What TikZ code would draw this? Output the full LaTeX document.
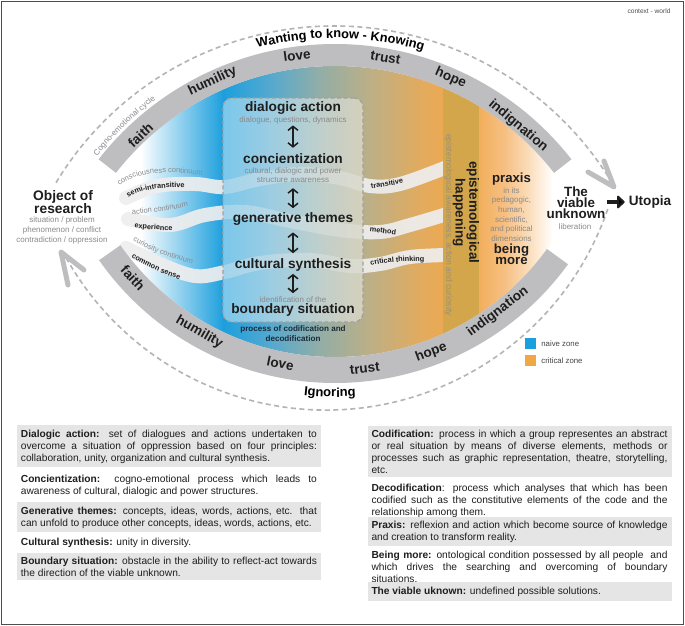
\documentclass[tikz,border=0pt]{standalone}
\usepackage{fontspec}
\setmainfont{Liberation Sans}
\usetikzlibrary{arrows.meta,decorations.text}
\definecolor{framegray}{HTML}{4D4D4D}
\definecolor{bandgray}{HTML}{BEBEC0}
\definecolor{dashgray}{HTML}{B4B4B4}
\definecolor{boxdash}{HTML}{A0A0A0}
\definecolor{subgray}{HTML}{8A8A8A}
\definecolor{epigray}{HTML}{9A8F78}
\definecolor{naiveblue}{HTML}{1C9FDD}
\definecolor{critorange}{HTML}{F0A845}
\definecolor{colgold}{HTML}{D3A64C}
\definecolor{boxgray}{HTML}{E5E5E5}
\definecolor{ink}{HTML}{1E1E1E}
\definecolor{navy}{HTML}{1B2A3C}
\definecolor{stripcol}{HTML}{EEEEEE}
\definecolor{legtext}{HTML}{444444}
\definecolor{gA}{HTML}{55A9CF}
\definecolor{gB}{HTML}{93AEA6}
\definecolor{gC}{HTML}{BDAF86}
\definecolor{gD}{HTML}{E2AB5E}
\definecolor{gE}{HTML}{EBA952}
\definecolor{gF}{HTML}{F2AF5C}
\definecolor{gG}{HTML}{F6C084}
\definecolor{gH}{HTML}{FBDFBE}
\newcommand{\fsz}[2]{\fontsize{#1}{#2}\selectfont}
\begin{document}
\begin{tikzpicture}[x=1pt,y=1pt,
  bandword/.style={font=\bfseries\fsz{13.5}{14}, text=ink, inner sep=0pt, anchor=mid},
  bigtext/.style={font=\bfseries\fsz{13.7}{13}, text=ink, inner sep=1pt, align=center},
  subtext/.style={font=\fsz{8}{9.7}, text=subgray, inner sep=1pt, align=center},
  striplabel/.style={font=\bfseries\fsz{7.3}{8}, text=ink, inner sep=0pt},
  strip/.style={line width=14pt, draw=stripcol, line cap=round},
  dashline/.style={draw=dashgray, line width=1.6pt, dash pattern=on 5pt off 3.5pt},
  chevron/.style={draw=bandgray, line width=5pt, line cap=round, line join=round},
  dbl/.style={line width=1.5pt, draw=ink, {Straight Barb[length=4pt,width=10pt]}-{Straight Barb[length=4pt,width=10pt]}},
  defbox/.style={anchor=north west, text width=296pt, align=justify, inner xsep=4pt, inner ysep=3.5pt,
    font=\fsz{10.2}{12}, text=ink, execute at begin node={\tolerance=9999\strut}},
  graybox/.style={defbox, fill=boxgray},
  legendtext/.style={font=\fsz{7.8}{9}, text=legtext, inner sep=0pt, anchor=west}
]
\useasboundingbox (0,0) rectangle (685,-626);
\fill[white] (0,0) rectangle (685,-626);
\draw[draw=framegray, line width=1.5pt] (1.5,-1.5) rectangle (683.5,-624.5);

% ---------- lens gradient ----------
\begin{scope}
  \clip (335,-344) circle (278);
  \clip (335,-95) circle (262);
  \fill[white] (80,-50) rectangle (600,-380);
  \shade[left color=white,right color=naiveblue] (140,-50) rectangle (223.5,-380);
  \shade[left color=naiveblue,right color=gA] (223,-50) rectangle (270.5,-380);
  \shade[left color=gA,right color=gB] (270,-50) rectangle (320.5,-380);
  \shade[left color=gB,right color=gC] (320,-50) rectangle (370.5,-380);
  \shade[left color=gC,right color=gD] (370,-50) rectangle (420.5,-380);
  \shade[left color=gD,right color=gE] (420,-50) rectangle (443.5,-380);
  \shade[left color=gF,right color=gG] (479,-50) rectangle (505.5,-380);
  \shade[left color=gG,right color=gH] (505,-50) rectangle (530.5,-380);
  \shade[left color=gH,right color=white] (530,-50) rectangle (553,-380);
\end{scope}

% ---------- strips outside the box ----------
\begin{scope}
  \clip (0,0) rectangle (223,-626) (363,0) rectangle (685,-626);
  \draw[strip, opacity=0.92] plot[smooth,tension=0.6] coordinates {(126,-198) (157,-186) (195,-184) (225,-187) (260,-179) (300,-174) (340,-178) (370,-186) (400,-184) (447,-167)};
  \draw[strip, opacity=0.92] plot[smooth,tension=0.6] coordinates {(128,-219) (170,-225) (205,-215) (245,-212) (290,-221) (340,-230) (380,-232) (410,-225) (447,-214)};
  \draw[strip, opacity=0.92] plot[smooth,tension=0.6] coordinates {(126,-248) (160,-264) (195,-276) (225,-272) (260,-263) (310,-260) (350,-266) (380,-264) (410,-257) (447,-255)};
\end{scope}

% ---------- box overlay ----------
\fill[white, fill opacity=0.42, rounded corners=9pt] (223,-98) rectangle (363,-322);
\begin{scope}
  \clip (223,0) rectangle (363,-626);
  \draw[strip, opacity=0.35] plot[smooth,tension=0.6] coordinates {(126,-198) (157,-186) (195,-184) (225,-187) (260,-179) (300,-174) (340,-178) (370,-186) (400,-184) (447,-167)};
  \draw[strip, opacity=0.35] plot[smooth,tension=0.6] coordinates {(128,-219) (170,-225) (205,-215) (245,-212) (290,-221) (340,-230) (380,-232) (410,-225) (447,-214)};
  \draw[strip, opacity=0.35] plot[smooth,tension=0.6] coordinates {(126,-248) (160,-264) (195,-276) (225,-272) (260,-263) (310,-260) (350,-266) (380,-264) (410,-257) (447,-255)};
\end{scope}

% ---------- epistemological column ----------
\begin{scope}
  \clip (335,-344) circle (278);
  \clip (335,-95) circle (262);
  \fill[colgold] (443,-50) rectangle (479,-380);
\end{scope}

\node[draw=boxdash, dash pattern=on 4pt off 2.5pt, line width=1.2pt, rounded corners=9pt,
      minimum width=140pt, minimum height=224pt, inner sep=0pt] (cbox) at (293,-210) {};

% ---------- bands ----------
\fill[bandgray] ([shift={(38:300)}]335,-344) arc[start angle=38,end angle=142,radius=300]
   -- ([shift={(142:278)}]335,-344) arc[start angle=142,end angle=38,radius=278] -- cycle;
\fill[bandgray] ([shift={(-145:288)}]335,-95) arc[start angle=-145,end angle=-36,radius=288]
   -- ([shift={(-36:262)}]335,-95) arc[start angle=-36,end angle=-145,radius=262] -- cycle;

% ---------- dashed cycle ----------
\draw[dashline] ([shift={(148.8:325)}]334,-351) arc[start angle=148.8,end angle=30.4,radius=325];
\draw[dashline] ([shift={(-19:298)}]326,-112) arc[start angle=-19,end angle=-152,radius=298];
\draw[chevron] (588,-172) -- (614,-187) -- (604,-161);
\draw[chevron] (84,-270) -- (61,-252) -- (68,-285);

% ---------- band words ----------
\node[bandword, rotate=43] (tfaith) at ([shift={(133:283)}]335,-344) {faith};
\node[bandword, rotate=25] (thum) at ([shift={(115:289)}]335,-344) {humility};
\node[bandword, rotate=7.5] (tlove) at ([shift={(97.5:289)}]335,-344) {love};
\node[bandword, rotate=-10] (ttrust) at ([shift={(80:289)}]335,-344) {trust};
\node[bandword, rotate=-23.5] (thope) at ([shift={(66.5:289)}]335,-344) {hope};
\node[bandword, rotate=-40] (tind) at ([shift={(50:284)}]335,-344) {indignation};

\node[bandword, rotate=-47.8] (bfaith) at ([shift={(-137.8:275)}]335,-95) {faith};
\node[bandword, rotate=-29.8] (bhum) at ([shift={(-119.8:274)}]335,-95) {humility};
\node[bandword, rotate=-11.5] (blove) at ([shift={(-101.5:276)}]335,-95) {love};
\node[bandword, rotate=6.2] (btrust) at ([shift={(-83.8:277)}]335,-95) {trust};
\node[bandword, rotate=20.5] (bhope) at ([shift={(-69.5:276)}]335,-95) {hope};
\node[bandword, rotate=36.9] (bind) at ([shift={(-53.1:272)}]335,-95) {indignation};

% ---------- curved titles ----------
\path[decorate, decoration={text along path, text align=center,
   text={|\bfseries\fsz{12.8}{13}|Wanting to know - Knowing}}]
   ([shift={(117:306)}]335,-344) arc[start angle=117,end angle=61,radius=306];
\path[decorate, decoration={text along path, text align=center,
   text={|\bfseries\fsz{13}{14}|Ignoring}}]
   ([shift={(-120:302)}]335,-95) arc[start angle=-120,end angle=-62,radius=302];
\path[decorate, decoration={text along path, text align=center, text color=subgray,
   text={|\fsz{8}{9}|Cogno-emotional cycle}}]
   ([shift={(148:303)}]335,-344) arc[start angle=148,end angle=120,radius=303];

% ---------- strip labels (left) ----------
\path[decorate, decoration={text along path, text align=center, text color=subgray,
   text={|\fsz{7.5}{8}|consciousness continuum}}]
   (112,-196) .. controls (118,-182) and (135,-174) .. (160,-173) .. controls (180,-172) and (200,-174) .. (215,-179);
\path[decorate, decoration={text along path, text align=center, text color=ink,
   text={|\bfseries\fsz{7.3}{8}|semi-intransitive}}]
   (118,-207) .. controls (128,-194) and (145,-189) .. (165,-188) .. controls (180,-187) and (190,-188) .. (198,-190);
\path[decorate, decoration={text along path, text align=center, text color=subgray,
   text={|\fsz{7.5}{8}|action continuum}}]
   (120,-216) .. controls (140,-213) and (165,-213) .. (200,-203);
\path[decorate, decoration={text along path, text align=center, text color=ink,
   text={|\bfseries\fsz{7.3}{8}|experience}}]
   (122,-226) .. controls (140,-229) and (160,-231) .. (185,-230);
\path[decorate, decoration={text along path, text align=center, text color=subgray,
   text={|\fsz{7.5}{8}|curiosity continuum}}]
   (122,-234) .. controls (140,-245) and (160,-258) .. (205,-266);
\path[decorate, decoration={text along path, text align=center, text color=ink,
   text={|\bfseries\fsz{7.3}{8}|common sense}}]
   (120,-251) .. controls (138,-261) and (160,-275) .. (192,-283);

% ---------- strip labels (right) ----------
\node[striplabel, rotate=10] (ltrans) at (387,-183.5) {transitive};
\node[striplabel, rotate=-7] (lmeth) at (383,-230.5) {method};
\path[decorate, decoration={text along path, text align=center, text color=ink,
   text={|\bfseries\fsz{7.3}{8}|critical thinking}}]
   (360,-270) .. controls (375,-263) and (392,-261) .. (436,-261);

% ---------- object of research ----------
\node[bigtext, font=\bfseries\fsz{13.8}{12}] (obj) at (63,-202) {Object of\\research};
\node[subtext, font=\fsz{8}{10}] (objsub) at (62,-230.5) {situation / problem\\phenomenon / conflict\\contradiction / oppression};

% ---------- central box ----------
\node[bigtext] (da) at (293,-108.3) {dialogic action};
\node[subtext] (dasub) at (293,-120) {dialogue, questions, dynamics};
\node[bigtext] (con) at (293,-159) {concientization};
\node[subtext] (consub) at (293,-175.2) {cultural, dialogic and power\\structure awareness};
\node[bigtext] (gen) at (293,-218.8) {generative themes};
\node[bigtext] (cs) at (293,-264.8) {cultural synthesis};
\node[subtext] (bsub) at (293,-299.3) {identification of the};
\node[bigtext] (bs) at (293,-310) {boundary situation};
\node[font=\bfseries\fsz{8.1}{10.4}, text=navy, align=center, inner sep=1pt] (proc) at (293,-333.5) {process of codification and\\decodification};

\draw[dbl, shorten <=0.5pt, shorten >=5pt] (dasub) -- (con);
\draw[dbl, shorten <=4pt, shorten >=3pt] (consub) -- (gen);
\draw[dbl, shorten <=6pt, shorten >=4pt] (gen) -- (cs);
\draw[dbl, shorten <=1.5pt, shorten >=2pt] (cs) -- (bsub);

% ---------- right side ----------
\node[bigtext, font=\bfseries\fsz{13.5}{11}, rotate=-90] (eh) at (466,-212.5) {epistemological\\happening};
\node[subtext, font=\fsz{8.6}{9}, text=epigray, rotate=-90] (ehsub) at (448.5,-225) {epistemological awareness, action and curiosity};

\node[bigtext, font=\bfseries\fsz{13.2}{12}] (praxis) at (511.5,-179) {praxis};
\node[subtext, font=\fsz{8}{9.66}] (praxsub) at (511.5,-214.5) {in its\\pedagogic,\\human,\\scientific,\\and political\\dimensions};
\node[bigtext, font=\bfseries\fsz{13.2}{11.5}] (being) at (511.5,-254.5) {being\\more};

\node[bigtext, font=\bfseries\fsz{13.4}{11}] (vu) at (576,-203) {The\\viable\\unknown};
\node[subtext] (lib) at (575,-227) {liberation};
\node[bigtext, font=\bfseries\fsz{13.6}{14}] (utopia) at (650,-202) {Utopia};
\draw[line width=4.5pt, draw=ink, -{Triangle[length=8pt,width=15pt,round]}, shorten >=3pt] (vu.east |- utopia) -- (utopia.west);

% ---------- legend & context ----------
\node[fill=naiveblue, minimum size=11pt, inner sep=0pt] (lgb) at (530.5,-343.5) {};
\node[legendtext, xshift=5pt] (lgbt) at (lgb.east) {naive zone};
\node[fill=critorange, minimum size=11pt, inner sep=0pt] (lgo) at (530.5,-360.5) {};
\node[legendtext, xshift=5pt] (lgot) at (lgo.east) {critical zone};
\node[font=\fsz{6.6}{8}, text=framegray, inner sep=0pt] (ctx) at (649,-11) {context - world};

% ---------- definitions ----------
\node[graybox] (d1) at (16.7,-425) {\textbf{Dialogic action:} set of dialogues and actions undertaken to\linebreak overcome a situation of oppression based on four principles:\linebreak collaboration, unity, organization and cultural synthesis.};
\node[defbox] (d2) at (16.7,-470) {\textbf{Concientization:} cogno-emotional process which leads to\linebreak awareness of cultural, dialogic and power structures.};
\node[graybox] (d3) at (16.7,-502) {\textbf{Generative themes:} concepts, ideas, words, actions, etc. that\linebreak can unfold to produce other concepts, ideas, words, actions, etc.};
\node[defbox] (d4) at (16.7,-533.4) {\textbf{Cultural synthesis:} unity in diversity.};
\node[graybox] (d5) at (16.7,-552.7) {\textbf{Boundary situation:} obstacle in the ability to reflect-act towards\linebreak the direction of the viable unknown.};

\node[graybox] (e1) at (367.3,-425.7) {\textbf{Codification:} process in which a group representes an abstract\linebreak or real situation by means of diverse elements, methods or\linebreak processes such as graphic representation, theatre, storytelling,\linebreak etc.};
\node[defbox] (e2) at (367.3,-479.7) {\textbf{Decodification}: process which analyses that which has been\linebreak codified such as the constitutive elements of the code and the\linebreak relationship among them.};
\node[graybox] (e3) at (367.3,-516.4) {\textbf{Praxis:} reflexion and action which become source of knowledge\linebreak and creation to transform reality.};
\node[defbox] (e4) at (367.3,-546.4) {\textbf{Being more:} ontological condition possessed by all people\ \ and\linebreak which drives the searching and overcoming of boundary\linebreak situations.};
\node[graybox] (e5) at (367.3,-582) {\textbf{The viable uknown:} undefined possible solutions.};
\end{tikzpicture}
\end{document}
